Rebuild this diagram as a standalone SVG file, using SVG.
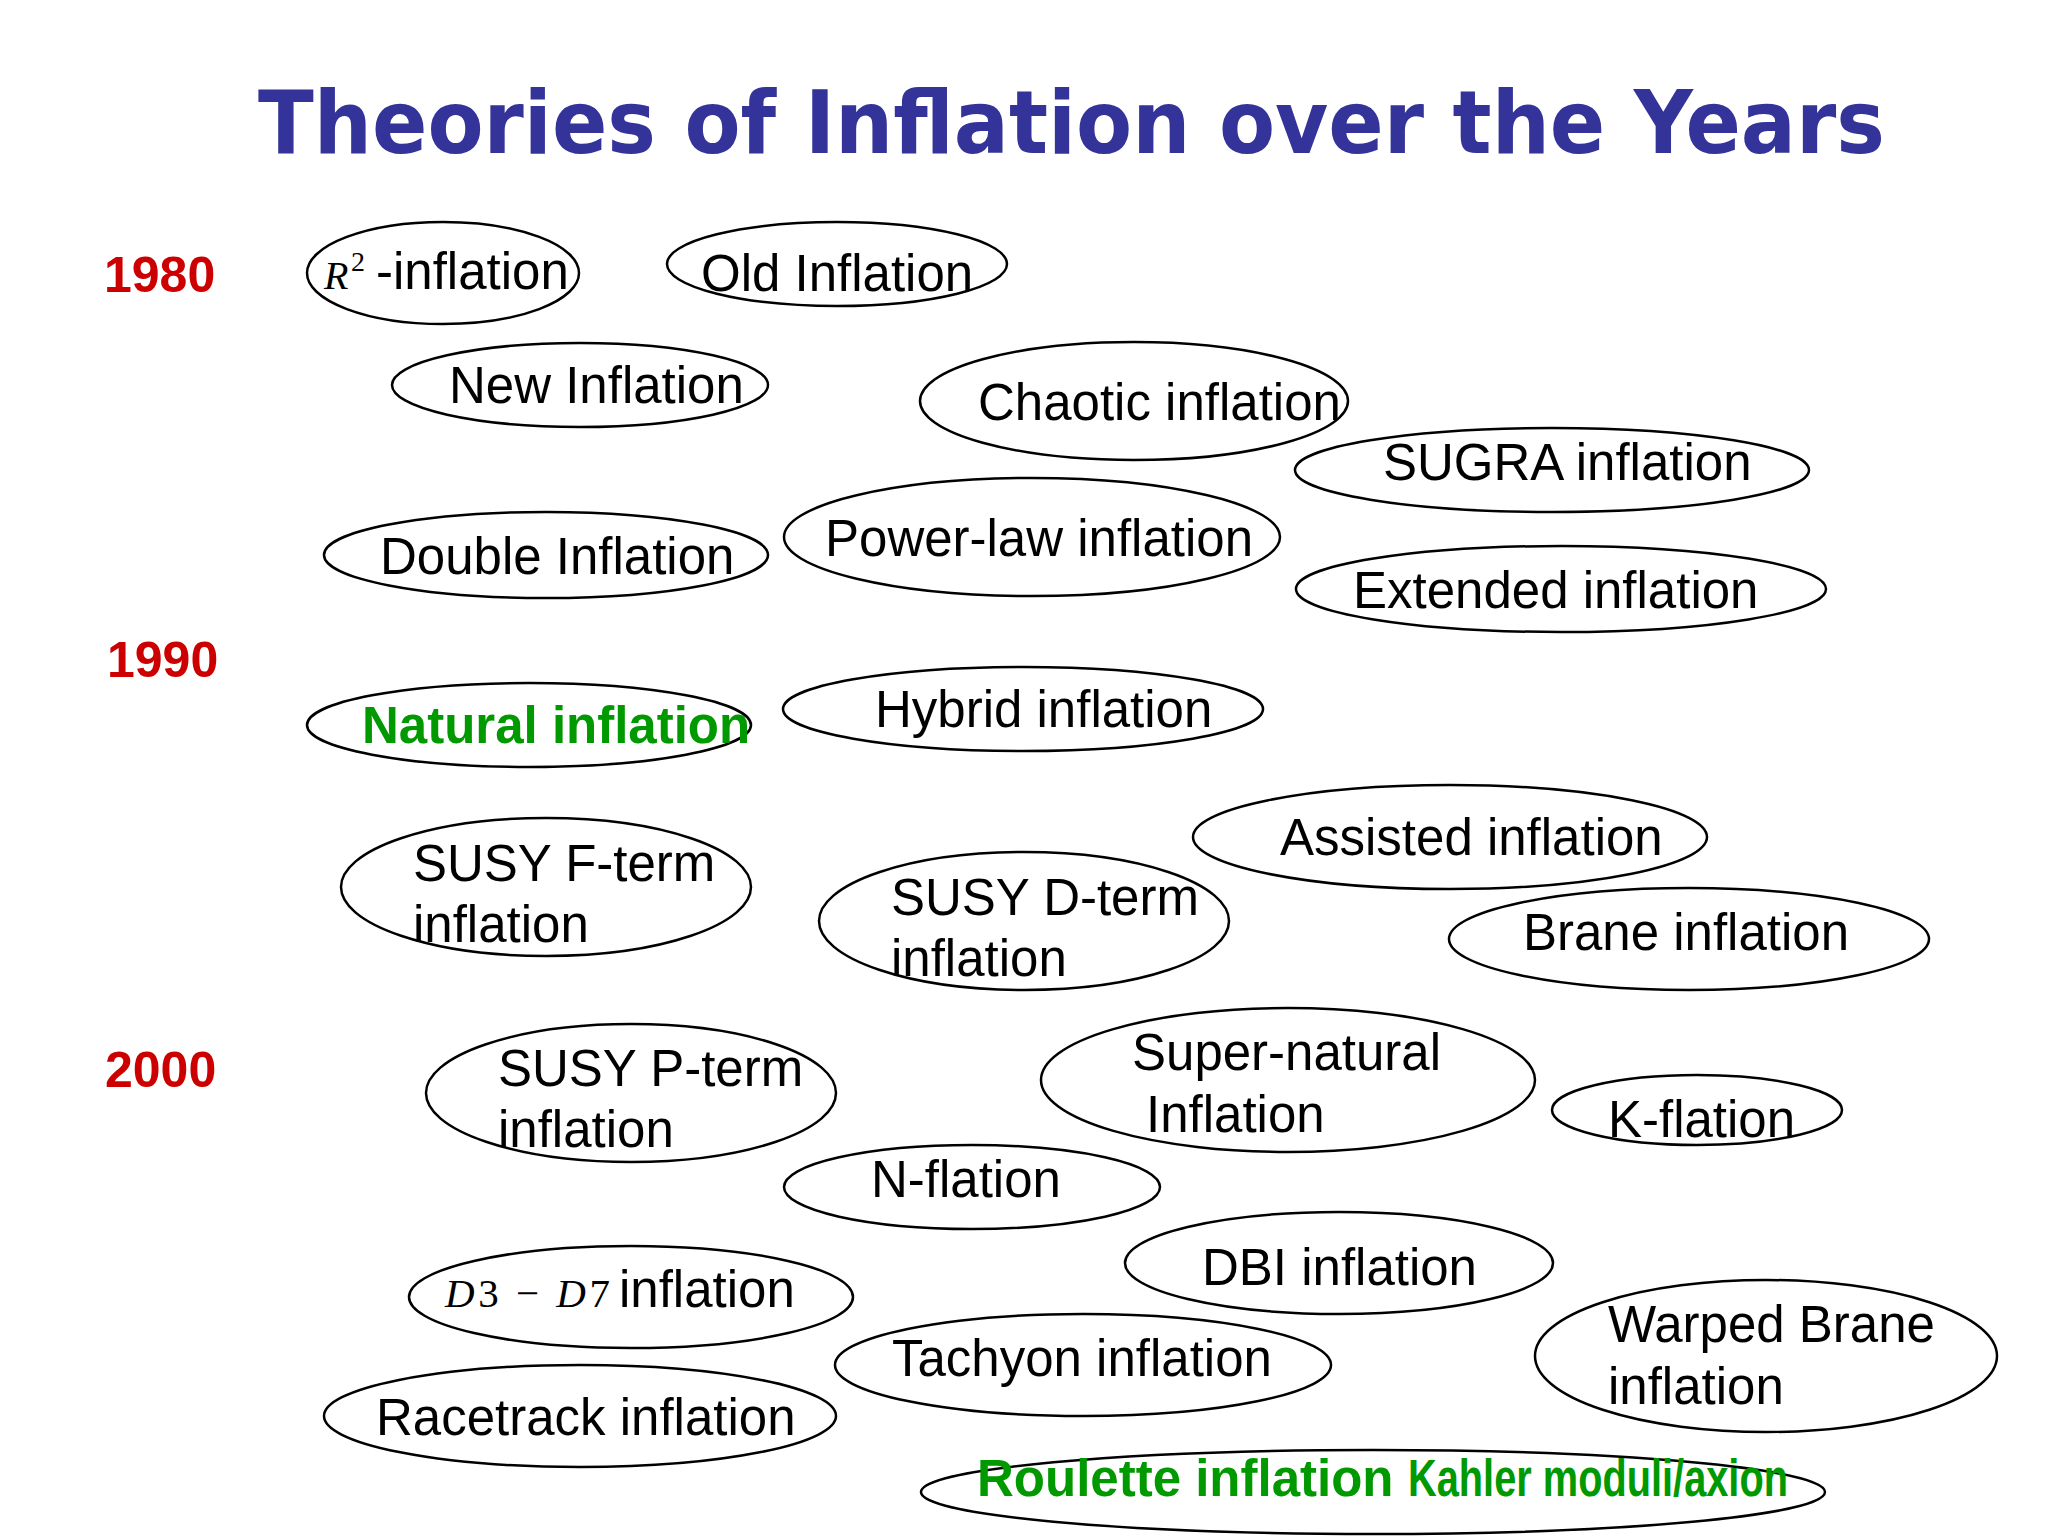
<svg xmlns="http://www.w3.org/2000/svg" width="2048" height="1536" viewBox="0 0 2048 1536">
<style>
.e{fill:none;stroke:#000;stroke-width:2.5}
.t{font-family:"Liberation Sans",Arial,sans-serif;font-size:51px;fill:#000}
.g{font-family:"Liberation Sans",Arial,sans-serif;font-size:51px;font-weight:bold;fill:#009900}
.y{font-family:"Liberation Sans",Arial,sans-serif;font-size:50px;font-weight:bold;fill:#cc0000}
.m{font-family:"Liberation Serif","Times New Roman",serif;font-style:italic;fill:#000}
.ti{font-family:"DejaVu Sans",Verdana,sans-serif;font-weight:bold;font-size:88px;fill:#333399}
</style>
<rect width="2048" height="1536" fill="#fff"/>
<text class="ti" x="258" y="153" textLength="1627" lengthAdjust="spacingAndGlyphs">Theories of Inflation over the Years</text>
<g id="years">
<text class="y" x="104" y="292">1980</text>
<text class="y" x="107" y="677">1990</text>
<text class="y" x="105" y="1087">2000</text>
</g>
<g id="connectors"></g>
<g id="n-r2"><ellipse class="e" cx="443" cy="273" rx="136" ry="51"/><text class="m" x="324" y="289" font-size="40">R</text><text x="351" y="271" font-family="Liberation Serif,serif" font-size="28">2</text><text class="t" x="376" y="289">-inflation</text></g>
<g id="n-old"><ellipse class="e" cx="837" cy="264" rx="170" ry="42"/><text class="t" x="701" y="291">Old Inflation</text></g>
<g id="n-new"><ellipse class="e" cx="580" cy="385" rx="188" ry="42"/><text class="t" x="449" y="403">New Inflation</text></g>
<g id="n-chaotic"><ellipse class="e" cx="1134" cy="401" rx="214" ry="59"/><text class="t" x="978" y="420">Chaotic inflation</text></g>
<g id="n-sugra"><ellipse class="e" cx="1552" cy="470" rx="257" ry="42"/><text class="t" x="1383" y="480">SUGRA inflation</text></g>
<g id="n-double"><ellipse class="e" cx="546" cy="555" rx="222" ry="43"/><text class="t" x="380" y="574">Double Inflation</text></g>
<g id="n-power"><ellipse class="e" cx="1032" cy="537" rx="248" ry="59"/><text class="t" x="825" y="556">Power-law inflation</text></g>
<g id="n-extended"><ellipse class="e" cx="1561" cy="589" rx="265" ry="43"/><text class="t" x="1353" y="608">Extended inflation</text></g>
<g id="n-natural"><ellipse class="e" cx="529" cy="725" rx="222" ry="42"/><text class="g" x="362" y="743">Natural inflation</text></g>
<g id="n-hybrid"><ellipse class="e" cx="1023" cy="709" rx="240" ry="42"/><text class="t" x="875" y="727">Hybrid inflation</text></g>
<g id="n-assisted"><ellipse class="e" cx="1450" cy="837" rx="257" ry="52"/><text class="t" x="1280" y="855">Assisted inflation</text></g>
<g id="n-fterm"><ellipse class="e" cx="546" cy="887" rx="205" ry="69"/><text class="t" x="413" y="881">SUSY F-term</text><text class="t" x="413" y="942">inflation</text></g>
<g id="n-dterm"><ellipse class="e" cx="1024" cy="921" rx="205" ry="69"/><text class="t" x="891" y="915">SUSY D-term</text><text class="t" x="891" y="976">inflation</text></g>
<g id="n-brane"><ellipse class="e" cx="1689" cy="939" rx="240" ry="51"/><text class="t" x="1523" y="950">Brane inflation</text></g>
<g id="n-pterm"><ellipse class="e" cx="631" cy="1093" rx="205" ry="69"/><text class="t" x="498" y="1086">SUSY P-term</text><text class="t" x="498" y="1147">inflation</text></g>
<g id="n-super"><ellipse class="e" cx="1288" cy="1080" rx="247" ry="72"/><text class="t" x="1132" y="1070">Super-natural</text><text class="t" x="1146" y="1132">Inflation</text></g>
<g id="n-kflation"><ellipse class="e" cx="1697" cy="1110" rx="145" ry="35"/><text class="t" x="1608" y="1137">K-flation</text></g>
<g id="n-nflation"><ellipse class="e" cx="972" cy="1187" rx="188" ry="42"/><text class="t" x="871" y="1197">N-flation</text></g>
<g id="n-dbi"><ellipse class="e" cx="1339" cy="1263" rx="214" ry="51"/><text class="t" x="1202" y="1285">DBI inflation</text></g>
<g id="n-d3d7"><ellipse class="e" cx="631" cy="1297" rx="222" ry="51"/><text class="m" x="445" y="1307" font-size="41" textLength="165" lengthAdjust="spacing">D<tspan font-style="normal">3 − </tspan>D<tspan font-style="normal">7</tspan></text><text class="t" x="619" y="1307">inflation</text></g>
<g id="n-tachyon"><ellipse class="e" cx="1083" cy="1365" rx="248" ry="51"/><text class="t" x="892" y="1376">Tachyon inflation</text></g>
<g id="n-warped"><ellipse class="e" cx="1766" cy="1356" rx="231" ry="76"/><text class="t" x="1608" y="1342">Warped Brane</text><text class="t" x="1608" y="1404">inflation</text></g>
<g id="n-racetrack"><ellipse class="e" cx="580" cy="1416" rx="256" ry="51"/><text class="t" x="376" y="1435">Racetrack inflation</text></g>
<g id="n-roulette"><ellipse class="e" cx="1373" cy="1492" rx="452" ry="42"/><text class="g" x="977" y="1496">Roulette inflation</text><text class="g" x="1408" y="1496" font-size="40" textLength="380" lengthAdjust="spacingAndGlyphs">Kahler moduli/axion</text></g>
</svg>
